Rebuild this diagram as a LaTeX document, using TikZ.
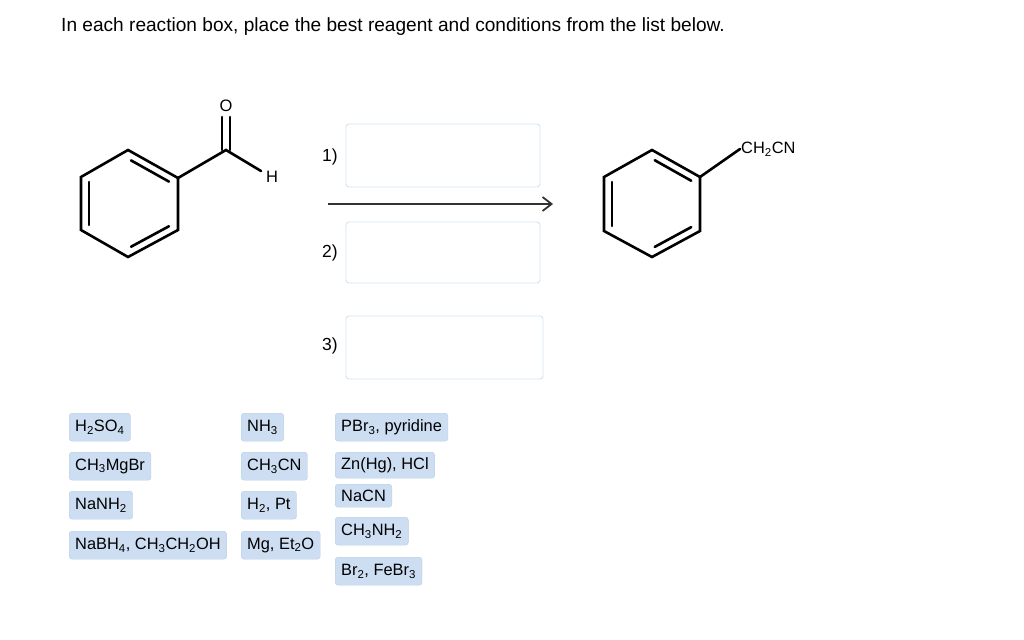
\documentclass[tikz,border=0pt]{standalone}
\usepackage{fontspec}
\setmainfont{Liberation Sans}
\usetikzlibrary{calc,arrows.meta}
\newcommand\ssb[1]{\textsubscript{#1}}
\definecolor{chipfill}{HTML}{CDDEF2}
\definecolor{chipdraw}{HTML}{B5CDE8}
\definecolor{boxdraw}{HTML}{D3E2EF}
\begin{document}
\begin{tikzpicture}[x=1pt,y=-1pt,
  bond/.style={line width=2.6pt,line cap=round},
  chip/.style={draw=chipdraw, fill=chipfill, rounded corners=3pt, anchor=north west, inner sep=0pt, inner xsep=6pt, minimum height=28pt, font=\fontsize{16.4}{18}\selectfont},
  rbox/.style={draw=boxdraw, rounded corners=3pt, line width=0.9pt},
  lbl/.style={font=\fontsize{17.5}{20}\selectfont}]
\useasboundingbox (0,0) rectangle (1024,639);
\node[anchor=west,inner sep=0pt,font=\fontsize{19.1}{22}\selectfont] (title) at (61,27) {In each reaction box, place the best reagent and conditions from the list below.};
% left molecule
\coordinate (a1) at (128,150); \coordinate (a2) at (178,178); \coordinate (a3) at (178,230);
\coordinate (a4) at (128,257); \coordinate (a5) at (81,230); \coordinate (a6) at (81,177);
\draw[bond] (a1)--(a2)--(a3)--(a4)--(a5)--(a6)--cycle;
\draw[bond] ($(a1)!0.12!(a2)+(-3,7)$) -- ($(a1)!0.88!(a2)+(-3,7)$);
\draw[bond] ($(a3)!0.12!(a4)+(-3,-7)$) -- ($(a3)!0.88!(a4)+(-3,-7)$);
\draw[bond] (89,182) -- (89,225);
\coordinate (c) at (226,150);
\node[lbl,font=\fontsize{16.5}{18}\selectfont] (O) at (226,106) {O};
\node[lbl,font=\fontsize{16.5}{18}\selectfont] (H) at (272,177) {H};
\draw[bond] (a2)--(c)--(261,171);
\draw[bond] (222,150)--(222,117); \draw[bond] (230,150)--(230,117);
% right molecule
\coordinate (b1) at (652,150); \coordinate (b2) at (700,177); \coordinate (b3) at (700,231);
\coordinate (b4) at (652,257); \coordinate (b5) at (604,231); \coordinate (b6) at (604,177);
\draw[bond] (b1)--(b2)--(b3)--(b4)--(b5)--(b6)--cycle;
\draw[bond] ($(b1)!0.12!(b2)+(-3,7)$) -- ($(b1)!0.88!(b2)+(-3,7)$);
\draw[bond] ($(b3)!0.12!(b4)+(-3,-7)$) -- ($(b3)!0.88!(b4)+(-3,-7)$);
\draw[bond] (612,182) -- (612,226);
\node[lbl,anchor=west,inner sep=1pt,font=\fontsize{16.4}{18}\selectfont] (cn) at (740,149) {CH\ssb{2}CN};
\draw[bond] (b2)--(cn.west);
% boxes
\draw[rbox] (346,124) rectangle (540,187);
\draw[rbox] (346,222) rectangle (540,283);
\draw[rbox] (346,316) rectangle (543,379);
\node[lbl] (l1) at (330,157) {1)};
\node[lbl] (l2) at (330,253) {2)};
\node[lbl] (l3) at (330,346) {3)};
\coordinate (ar1) at (328,204); \coordinate (ar2) at (553,204);
\draw[line width=1.8pt,-{Straight Barb[length=9pt,width=14pt]},draw=black!80] (ar1)--(ar2);
% chips
\node[chip] (k1) at (69,413) {H\ssb{2}SO\ssb{4}};
\node[chip] (k2) at (69,452) {CH\ssb{3}MgBr};
\node[chip] (k3) at (69,491) {NaNH\ssb{2}};
\node[chip] (k4) at (69,531) {NaBH\ssb{4}, CH\ssb{3}CH\ssb{2}OH};
\node[chip] (k5) at (241,413) {NH\ssb{3}};
\node[chip] (k6) at (241,452) {CH\ssb{3}CN};
\node[chip] (k7) at (241,491) {H\ssb{2}, Pt};
\node[chip] (k8) at (241,531) {Mg, Et\ssb{2}O};
\node[chip] (k9) at (335,413) {PBr\ssb{3}, pyridine};
\node[chip,minimum height=26pt] (k10) at (335,452) {Zn(Hg), HCl};
\node[chip,minimum height=23pt] (k11) at (335,484) {NaCN};
\node[chip] (k12) at (335,517) {CH\ssb{3}NH\ssb{2}};
\node[chip] (k13) at (335,557) {Br\ssb{2}, FeBr\ssb{3}};
\end{tikzpicture}
\end{document}
